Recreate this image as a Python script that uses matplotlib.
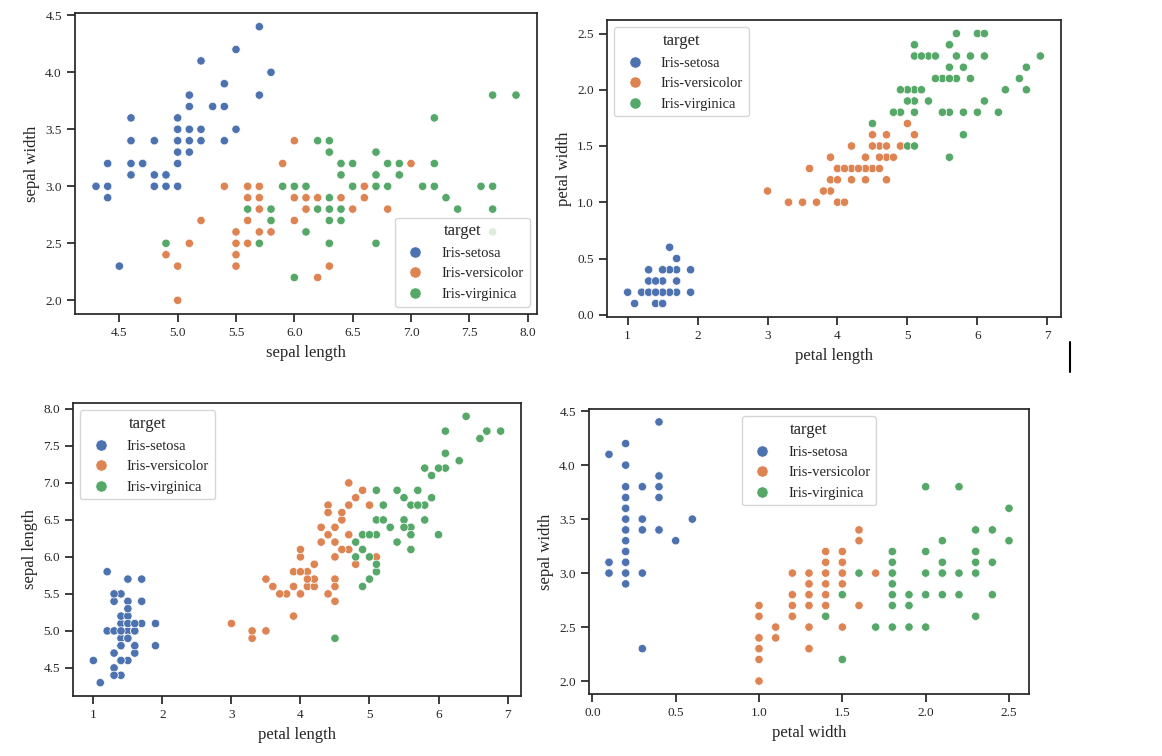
import matplotlib
matplotlib.use('Agg')
import matplotlib.pyplot as plt
from matplotlib.lines import Line2D
import seaborn as sns
import pandas as pd

# Iris data (UCI version), 50 rows per class
sepal_length = [
    5.1, 4.9, 4.7, 4.6, 5.0, 5.4, 4.6, 5.0, 4.4, 4.9, 5.4, 4.8, 4.8, 4.3, 5.8, 5.7, 5.4, 5.1, 5.7, 5.1,
    5.4, 5.1, 4.6, 5.1, 4.8, 5.0, 5.0, 5.2, 5.2, 4.7, 4.8, 5.4, 5.2, 5.5, 4.9, 5.0, 5.5, 4.9, 4.4, 5.1,
    5.0, 4.5, 4.4, 5.0, 5.1, 4.8, 5.1, 4.6, 5.3, 5.0,
    7.0, 6.4, 6.9, 5.5, 6.5, 5.7, 6.3, 4.9, 6.6, 5.2, 5.0, 5.9, 6.0, 6.1, 5.6, 6.7, 5.6, 5.8, 6.2, 5.6,
    5.9, 6.1, 6.3, 6.1, 6.4, 6.6, 6.8, 6.7, 6.0, 5.7, 5.5, 5.5, 5.8, 6.0, 5.4, 6.0, 6.7, 6.3, 5.6, 5.5,
    5.5, 6.1, 5.8, 5.0, 5.6, 5.7, 5.7, 6.2, 5.1, 5.7,
    6.3, 5.8, 7.1, 6.3, 6.5, 7.6, 4.9, 7.3, 6.7, 7.2, 6.5, 6.4, 6.8, 5.7, 5.8, 6.4, 6.5, 7.7, 7.7, 6.0,
    6.9, 5.6, 7.7, 6.3, 6.7, 7.2, 6.2, 6.1, 6.4, 7.2, 7.4, 7.9, 6.4, 6.3, 6.1, 7.7, 6.3, 6.4, 6.0, 6.9,
    6.7, 6.9, 5.8, 6.8, 6.7, 6.7, 6.3, 6.5, 6.2, 5.9,
]
sepal_width = [
    3.5, 3.0, 3.2, 3.1, 3.6, 3.9, 3.4, 3.4, 2.9, 3.1, 3.7, 3.4, 3.0, 3.0, 4.0, 4.4, 3.9, 3.5, 3.8, 3.8,
    3.4, 3.7, 3.6, 3.3, 3.4, 3.0, 3.4, 3.5, 3.4, 3.2, 3.1, 3.4, 4.1, 4.2, 3.1, 3.2, 3.5, 3.1, 3.0, 3.4,
    3.5, 2.3, 3.2, 3.5, 3.8, 3.0, 3.8, 3.2, 3.7, 3.3,
    3.2, 3.2, 3.1, 2.3, 2.8, 2.8, 3.3, 2.4, 2.9, 2.7, 2.0, 3.0, 2.2, 2.9, 2.9, 3.1, 3.0, 2.7, 2.2, 2.5,
    3.2, 2.8, 2.5, 2.8, 2.9, 3.0, 2.8, 3.0, 2.9, 2.6, 2.4, 2.4, 2.7, 2.7, 3.0, 3.4, 3.1, 2.3, 3.0, 2.5,
    2.6, 3.0, 2.6, 2.3, 2.7, 3.0, 2.9, 2.9, 2.5, 2.8,
    3.3, 2.7, 3.0, 2.9, 3.0, 3.0, 2.5, 2.9, 2.5, 3.6, 3.2, 2.7, 3.0, 2.5, 2.8, 3.2, 3.0, 3.8, 2.6, 2.2,
    3.2, 2.8, 2.8, 2.7, 3.3, 3.2, 2.8, 3.0, 2.8, 3.0, 2.8, 3.8, 2.8, 2.8, 2.6, 3.0, 3.4, 3.1, 3.0, 3.1,
    3.1, 3.1, 2.7, 3.2, 3.3, 3.0, 2.5, 3.0, 3.4, 3.0,
]
petal_length = [
    1.4, 1.4, 1.3, 1.5, 1.4, 1.7, 1.4, 1.5, 1.4, 1.5, 1.5, 1.6, 1.4, 1.1, 1.2, 1.5, 1.3, 1.4, 1.7, 1.5,
    1.7, 1.5, 1.0, 1.7, 1.9, 1.6, 1.6, 1.5, 1.4, 1.6, 1.6, 1.5, 1.5, 1.4, 1.5, 1.2, 1.3, 1.5, 1.3, 1.5,
    1.3, 1.3, 1.3, 1.6, 1.9, 1.4, 1.6, 1.4, 1.5, 1.4,
    4.7, 4.5, 4.9, 4.0, 4.6, 4.5, 4.7, 3.3, 4.6, 3.9, 3.5, 4.2, 4.0, 4.7, 3.6, 4.4, 4.5, 4.1, 4.5, 3.9,
    4.8, 4.0, 4.9, 4.7, 4.3, 4.4, 4.8, 5.0, 4.5, 3.5, 3.8, 3.7, 3.9, 5.1, 4.5, 4.5, 4.7, 4.4, 4.1, 4.0,
    4.4, 4.6, 4.0, 3.3, 4.2, 4.2, 4.2, 4.3, 3.0, 4.1,
    6.0, 5.1, 5.9, 5.6, 5.8, 6.6, 4.5, 6.3, 5.8, 6.1, 5.1, 5.3, 5.5, 5.0, 5.1, 5.3, 5.5, 6.7, 6.9, 5.0,
    5.7, 4.9, 6.7, 4.9, 5.7, 6.0, 4.8, 4.9, 5.6, 5.8, 6.1, 6.4, 5.6, 5.1, 5.6, 6.1, 5.6, 5.5, 4.8, 5.4,
    5.6, 5.1, 5.1, 5.9, 5.7, 5.2, 5.0, 5.2, 5.4, 5.1,
]
petal_width = [
    0.2, 0.2, 0.2, 0.2, 0.2, 0.4, 0.3, 0.2, 0.2, 0.1, 0.2, 0.2, 0.1, 0.1, 0.2, 0.4, 0.4, 0.3, 0.3, 0.3,
    0.2, 0.4, 0.2, 0.5, 0.2, 0.2, 0.4, 0.2, 0.2, 0.2, 0.2, 0.4, 0.1, 0.2, 0.1, 0.2, 0.2, 0.1, 0.2, 0.2,
    0.3, 0.3, 0.2, 0.6, 0.4, 0.3, 0.2, 0.2, 0.2, 0.2,
    1.4, 1.5, 1.5, 1.3, 1.5, 1.3, 1.6, 1.0, 1.3, 1.4, 1.0, 1.5, 1.0, 1.4, 1.3, 1.4, 1.5, 1.0, 1.5, 1.1,
    1.8, 1.3, 1.5, 1.2, 1.3, 1.4, 1.4, 1.7, 1.5, 1.0, 1.1, 1.0, 1.2, 1.6, 1.5, 1.6, 1.5, 1.3, 1.3, 1.3,
    1.2, 1.4, 1.2, 1.0, 1.3, 1.2, 1.3, 1.3, 1.1, 1.3,
    2.5, 1.9, 2.1, 1.8, 2.2, 2.1, 1.7, 1.8, 1.8, 2.5, 2.0, 1.9, 2.1, 2.0, 2.4, 2.3, 1.8, 2.2, 2.3, 1.5,
    2.3, 2.0, 2.0, 1.8, 2.1, 1.8, 1.8, 1.8, 2.1, 1.6, 1.9, 2.0, 2.2, 1.5, 1.4, 2.3, 2.4, 1.8, 1.8, 2.1,
    2.4, 2.3, 1.9, 2.3, 2.5, 2.3, 1.9, 2.0, 2.3, 1.8,
]
classes = ['Iris-setosa', 'Iris-versicolor', 'Iris-virginica']
target = [classes[0]] * 50 + [classes[1]] * 50 + [classes[2]] * 50

df = pd.DataFrame({
    'sepal length': sepal_length,
    'sepal width': sepal_width,
    'petal length': petal_length,
    'petal width': petal_width,
    'target': target,
})

sns.set_theme(style='ticks')
plt.rcParams['font.family'] = ['Liberation Serif', 'DejaVu Serif']
plt.rcParams['xtick.labelsize'] = 9.5
plt.rcParams['ytick.labelsize'] = 9.5
plt.rcParams['axes.labelsize'] = 12
plt.rcParams['legend.fontsize'] = 10.5
plt.rcParams['legend.title_fontsize'] = 12

W, H = 1162, 756
fig = plt.figure(figsize=(W / 100, H / 100), dpi=100)


def add_ax(left, top, right, bottom):
    # pixel box -> figure fraction
    return fig.add_axes([left / W, 1 - bottom / H, (right - left) / W, (bottom - top) / H])


panels = [
    # (box in pixels, x column, y column, legend loc)
    ((75, 13, 537, 314), 'sepal length', 'sepal width', 'lower right'),
    ((607, 20, 1061, 317), 'petal length', 'petal width', 'upper left'),
    ((73, 403, 521, 696), 'petal length', 'sepal length', 'upper left'),
    ((589, 409, 1029, 694), 'petal width', 'sepal width', 'upper center'),
]

for box, xcol, ycol, loc in panels:
    ax = add_ax(*box)
    sns.scatterplot(data=df, x=xcol, y=ycol, hue='target', hue_order=classes,
                    palette='deep', s=36, ax=ax)
    ax.legend(title='target', loc=loc, markerscale=1.35)
    for spine in ax.spines.values():
        spine.set_linewidth(1.25)

# stray vertical stroke to the right of the top-right panel
fig.add_artist(Line2D([1070 / W, 1070 / W], [1 - 342 / H, 1 - 372 / H],
                      color='black', linewidth=1.5))

fig.savefig('out.png', dpi=100, facecolor='white')
